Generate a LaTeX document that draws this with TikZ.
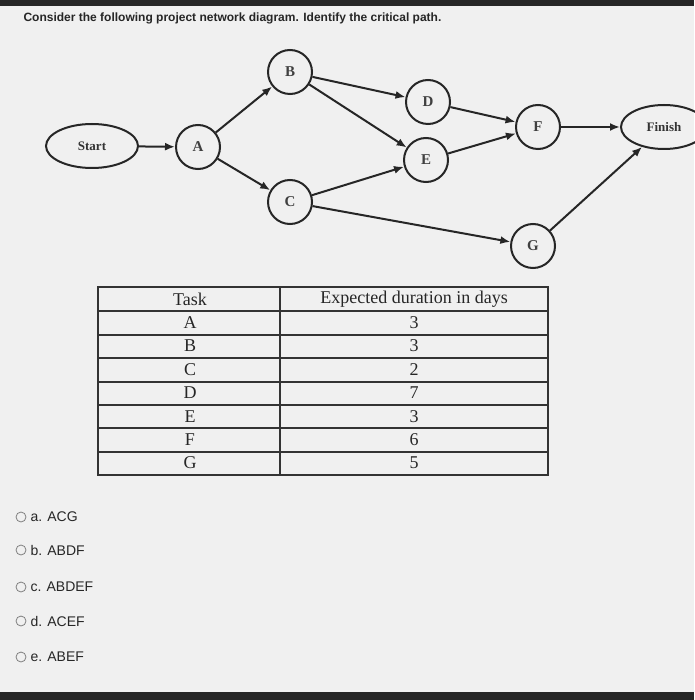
\documentclass[tikz,border=0pt]{standalone}
\usepackage{fontspec}
\setmainfont{Liberation Serif}
\newfontfamily\hv{Liberation Sans}
\usetikzlibrary{arrows.meta,shapes.geometric}
\begin{document}
\begin{tikzpicture}[x=1pt,y=-1pt,
  ev/.style={circle,draw=black!85,line width=2pt,minimum size=44pt,inner sep=0pt,font=\bfseries\fontsize{15}{15}\selectfont,text=black!75},
  term/.style={ellipse,draw=black!85,line width=2pt,minimum width=92pt,minimum height=44pt,inner sep=0pt,font=\bfseries\fontsize{13}{13}\selectfont,text=black!80},
  arr/.style={-{Latex[length=10pt,width=8pt]},line width=2pt,draw=black!85},
  cell/.style={font=\fontsize{18}{18}\selectfont,text=black!85},
  opt/.style={font=\hv\fontsize{14}{14}\selectfont,text=black!85,anchor=west},
  rb/.style={circle,draw=black!50,line width=0.8pt,minimum size=10pt,inner sep=0pt}]
\useasboundingbox (0,0) rectangle (694,700);
\fill[gray!12] (0,0) rectangle (694,700);
\fill[black!85] (0,0) rectangle (694,6);
\fill[black!85] (0,692) rectangle (694,700);
\node[anchor=west,font=\hv\bfseries\fontsize{12}{12}\selectfont,text=black!85] (title) at (20,18) {Consider the following project network diagram. Identify the critical path.};
% nodes
\node[term] (S) at (92,146) {Start};
\node[ev] (A) at (198,147) {A};
\node[ev] (B) at (290,72) {B};
\node[ev] (C) at (290,202) {C};
\node[ev] (D) at (428,102) {D};
\node[ev] (E) at (426,160) {E};
\node[ev] (F) at (538,127) {F};
\node[ev] (G) at (533,246) {G};
\node[term,minimum width=86pt] (Fi) at (664,127) {Finish};
\draw[arr] (S) -- (A);
\draw[arr] (A) -- (B);
\draw[arr] (A) -- (C);
\draw[arr] (B) -- (D);
\draw[arr] (B) -- (E);
\draw[arr] (C) -- (E);
\draw[arr] (C) -- (G);
\draw[arr] (D) -- (F);
\draw[arr] (E) -- (F);
\draw[arr] (F) -- (Fi);
\draw[arr] (G) -- (Fi);
% table
\draw[line width=2pt,black!80] (98,287) rectangle (548,475);
\draw[line width=2pt,black!80] (280,287) -- (280,475);
\foreach \y in {311,335,358,382,405,428,452}
  \draw[line width=2pt,black!80] (98,\y) -- (548,\y);
\node[cell] (th1) at (190,299) {Task};
\node[cell] (th2) at (414,299) {Expected duration in days};
\foreach \t/\d [count=\i] in {A/3,B/3,C/2,D/7,E/3,F/6,G/5}{
  \node[cell] (t\i) at (190,{311+23.4*\i-11.7}) {\t};
  \node[cell] (d\i) at (414,{311+23.4*\i-11.7}) {\d};
}
% options
\foreach \txt/\y [count=\i] in {a. ACG/517,b. ABDF/550,c. ABDEF/587,d. ACEF/621,e. ABEF/657}{
  \node[rb] (r\i) at (21,\y) {};
  \node[opt] (o\i) at (27,\y) {\txt};
}
\end{tikzpicture}
\end{document}
